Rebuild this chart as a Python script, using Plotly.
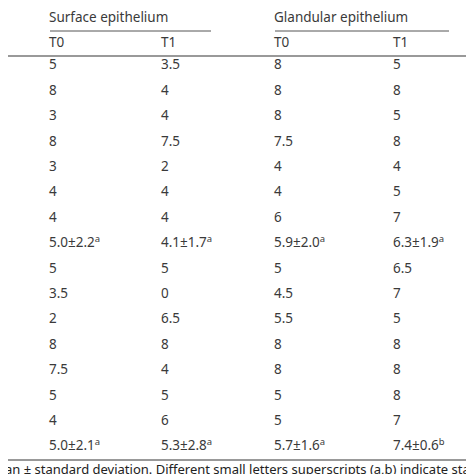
import plotly.graph_objects as go

# Table contents
groups = ["Surface epithelium", "Glandular epithelium"]
subheads = ["T0", "T1", "T0", "T1"]
surface_t0 = ["5", "8", "3", "8", "3", "4", "4", "5.0±2.2<sup>a</sup>",
              "5", "3.5", "2", "8", "7.5", "5", "4", "5.0±2.1<sup>a</sup>"]
surface_t1 = ["3.5", "4", "4", "7.5", "2", "4", "4", "4.1±1.7<sup>a</sup>",
              "5", "0", "6.5", "8", "4", "5", "6", "5.3±2.8<sup>a</sup>"]
glandular_t0 = ["8", "8", "8", "7.5", "4", "4", "6", "5.9±2.0<sup>a</sup>",
                "5", "4.5", "5.5", "8", "8", "5", "5", "5.7±1.6<sup>a</sup>"]
glandular_t1 = ["5", "8", "5", "8", "4", "5", "7", "6.3±1.9<sup>a</sup>",
                "6.5", "7", "5", "8", "8", "8", "7", "7.4±0.6<sup>b</sup>"]
footnote = "an ± standard deviation. Different small letters superscripts (a,b) indicate statistically differ"

W = H = 474
col_x = [41, 153, 266, 385]
row_y0, row_dy = 58, 25.4
txt = dict(family="Noto Sans", size=13.5, color="#3a3a3a")

fig = go.Figure()
columns = [surface_t0, surface_t1, glandular_t0, glandular_t1]
for cx, vals in zip(col_x, columns):
    fig.add_trace(go.Scatter(
        x=[cx] * len(vals), y=[row_y0 + i * row_dy for i in range(len(vals))],
        text=vals, mode="text", textposition="middle right",
        textfont=txt, hoverinfo="skip", showlegend=False))

fig.add_trace(go.Scatter(
    x=col_x, y=[36] * 4, text=subheads, mode="text", textposition="middle right",
    textfont=txt, hoverinfo="skip", showlegend=False))
fig.add_trace(go.Scatter(
    x=[col_x[0], col_x[2]], y=[11, 11], text=groups, mode="text",
    textposition="middle right", textfont=txt, hoverinfo="skip", showlegend=False))
fig.add_trace(go.Scatter(
    x=[-3], y=[463], text=[footnote], mode="text", textposition="middle right",
    textfont=dict(family="Noto Sans", size=13, color="#222"),
    hoverinfo="skip", showlegend=False))

# Rules
fig.add_shape(type="line", x0=42, x1=203, y0=23, y1=23, line=dict(color="#555", width=1))
fig.add_shape(type="line", x0=267, x1=441, y0=23, y1=23, line=dict(color="#555", width=1))
fig.add_shape(type="line", x0=0, x1=474, y0=48, y1=48, line=dict(color="#777", width=1.5))
fig.add_shape(type="line", x0=0, x1=474, y0=452, y1=452, line=dict(color="#777", width=1.5))

fig.update_layout(
    width=W, height=H, margin=dict(l=0, r=0, t=0, b=0),
    paper_bgcolor="white", plot_bgcolor="white",
    xaxis=dict(range=[0, W], visible=False, fixedrange=True),
    yaxis=dict(range=[H, 0], visible=False, fixedrange=True),
)

fig.write_html("out.html")
